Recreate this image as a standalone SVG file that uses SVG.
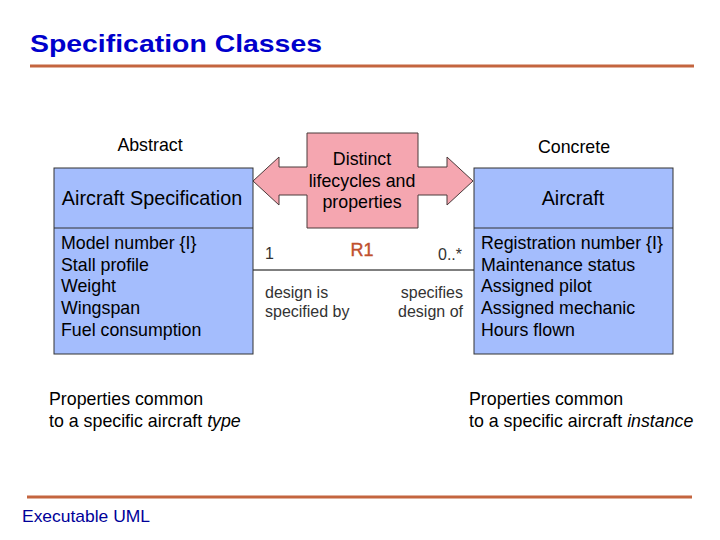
<svg xmlns="http://www.w3.org/2000/svg" width="720" height="540" viewBox="0 0 720 540">
<style>
text{font-family:"Liberation Sans",Arial,sans-serif;fill:#000}
.cls{fill:#a4bdfd;stroke:#333;stroke-width:1}
.div{stroke:#333;stroke-width:1}
.rule{stroke:#c4653f;stroke-width:3}
.t16{font-size:17.8px}
.t18{font-size:19.8px}
.t14{font-size:16px;fill:#333}
</style>
<rect width="720" height="540" fill="#fff"/>
<text x="30" y="52" font-size="24" font-weight="bold" style="fill:#0000cc" textLength="292" lengthAdjust="spacingAndGlyphs">Specification Classes</text>
<line class="rule" x1="30" y1="66" x2="694" y2="66"/>
<line class="rule" x1="27" y1="497" x2="692" y2="497"/>
<text x="22" y="522" font-size="17" style="fill:#000099" textLength="128" lengthAdjust="spacingAndGlyphs">Executable UML</text>

<g id="connectors">
<line x1="253" y1="270" x2="474" y2="270" stroke="#000" stroke-width="1"/>
<text class="t14" x="265" y="259">1</text>
<text x="362" y="256" text-anchor="middle" font-size="18" style="fill:#c0502e;stroke:#c0502e;stroke-width:0.4">R1</text>
<text class="t14" x="462" y="260" text-anchor="end">0..*</text>
<text class="t14" x="265" y="298">design is</text>
<text class="t14" x="265" y="317">specified by</text>
<text class="t14" x="463" y="298" text-anchor="end">specifies</text>
<text class="t14" x="463" y="317" text-anchor="end">design of</text>
</g>

<g id="lifecycle-arrow">
<polygon points="253,181 279,157 279,167 307,167 307,133 418,133 418,167 447,167 447,157 473,181 447,205 447,195 418,195 418,228 307,228 307,195 279,195 279,205" fill="#f5a6b0" stroke="#4a3a3a" stroke-width="1"/>
<text class="t16" x="362" y="165" text-anchor="middle">Distinct</text>
<text class="t16" x="362" y="187" text-anchor="middle">lifecycles and</text>
<text class="t16" x="362" y="208" text-anchor="middle">properties</text>
</g>

<g id="aircraft-specification">
<text class="t16" x="150" y="151" text-anchor="middle">Abstract</text>
<rect class="cls" x="54" y="168" width="199" height="186"/>
<line class="div" x1="54" y1="228" x2="253" y2="228"/>
<text class="t18" x="152" y="205" text-anchor="middle">Aircraft Specification</text>
<text class="t16" x="61" y="249">Model number {I}</text>
<text class="t16" x="61" y="271">Stall profile</text>
<text class="t16" x="61" y="292">Weight</text>
<text class="t16" x="61" y="314">Wingspan</text>
<text class="t16" x="61" y="336">Fuel consumption</text>
<text class="t16" x="49" y="405">Properties common</text>
<text class="t16" x="49" y="427">to a specific aircraft <tspan font-style="italic">type</tspan></text>
</g>

<g id="aircraft">
<text class="t16" x="574" y="153" text-anchor="middle">Concrete</text>
<rect class="cls" x="474" y="168" width="199" height="186"/>
<line class="div" x1="474" y1="228" x2="673" y2="228"/>
<text class="t18" x="573" y="205" text-anchor="middle">Aircraft</text>
<text class="t16" x="481" y="249">Registration number {I}</text>
<text class="t16" x="481" y="271">Maintenance status</text>
<text class="t16" x="481" y="292">Assigned pilot</text>
<text class="t16" x="481" y="314">Assigned mechanic</text>
<text class="t16" x="481" y="336">Hours flown</text>
<text class="t16" x="469" y="405">Properties common</text>
<text class="t16" x="469" y="427">to a specific aircraft <tspan font-style="italic">instance</tspan></text>
</g>
</svg>
